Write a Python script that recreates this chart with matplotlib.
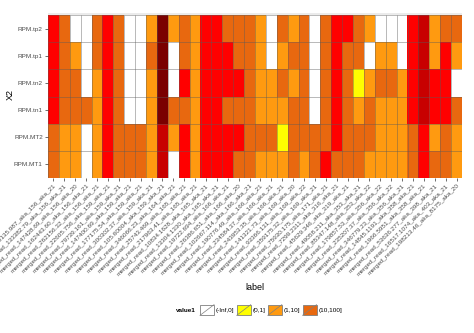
import numpy as np
import matplotlib.pyplot as plt
import matplotlib as mpl
from matplotlib.colors import ListedColormap, BoundaryNorm
from matplotlib.patches import Patch, Rectangle
from matplotlib.lines import Line2D
from matplotlib.legend_handler import HandlerPatch

mpl.rcParams['font.family'] = ['Liberation Sans', 'DejaVu Sans']

# fill levels (cut() bins), first four are in the legend
levels = ['(-Inf,0]', '(0,1]', '(1,10]', '(10,100]', '(100,1e+03]', '(1e+03,1e+04]', '(1e+04,1e+05]']
colors = ['#FFFFFF', '#FFFF00', '#FF9A10', '#E8680F', '#FF0000', '#C80000', '#7A0000']
code = {'W': 0, 'Y': 1, 'O': 2, 'D': 3, 'R': 4, 'K': 5, 'M': 6}

rows = ['RPM.MT1', 'RPM.MT2', 'RPM.tn1', 'RPM.tn2', 'RPM.tp1', 'RPM.tp2']

# one string per row, one letter per label (column)
rpm_mt1 = "DOOWORDDDOKWRORRRDDOOODODRDDDOOOODRDDO"
rpm_mt2 = "DOOWORDDDOKORORRRRDDDYDDDDRDDDOOODRODO"
rpm_tn1 = "RDDDORDWWOMDDORRDDDOOODDWDRDODOOORKRRD"
rpm_tn2 = "RDDWORDWWOMWRORRRRDOODODWDRDYODDORKRRW"
rpm_tp1 = "RDOWDRDWWDMWDORRRDDOWODDWDRDDWOOWRKORO"
rpm_tp2 = "RDWWDRDWWOMODORRDDDOWDODWDRRDOWWWRKODD"

labels = [
    "merged_read_10135.987_aka_156_aka_21", "merged_read_133382.79_aka_156_aka_21",
    "merged_read_147428.69_aka_156_aka_20", "merged_read_162443.60_aka_156_aka_21",
    "merged_read_262156.32_aka_156_aka_21", "merged_read_22605.756_aka_159_aka_21",
    "merged_read_79739.161_aka_159_aka_21", "merged_read_147400.69_aka_159_aka_21",
    "merged_read_177175.54_aka_159_aka_21", "merged_read_300302.37_aka_159_aka_21",
    "merged_read_105.60004_aka_159_aka_21", "merged_read_346066.23_aka_164_aka_21",
    "merged_read_25743.469_aka_165_aka_21", "merged_read_217963.41_aka_165_aka_21",
    "merged_read_10834.1628_aka_165_aka_21", "merged_read_13304.1330_aka_165_aka_21",
    "merged_read_19722.694_aka_166_aka_21", "merged_read_26386.651_aka_166_aka_20",
    "merged_read_102667.114_aka_166_aka_21", "merged_read_190776.49_aka_166_aka_21",
    "merged_read_234584.37_aka_166_aka_21", "merged_read_243953.35_aka_166_aka_21",
    "merged_read_141321.73_aka_169_aka_20", "merged_read_93366.131_aka_169_aka_22",
    "merged_read_359175.32_aka_169_aka_21", "merged_read_75930.175_aka_171_aka_21",
    "merged_read_7299.2311_aka_316_aka_21", "merged_read_45629.346_aka_319_aka_21",
    "merged_read_49058.211_aka_353_aka_21", "merged_read_85347.148_aka_353_aka_22",
    "merged_read_179857.53_aka_356_aka_22", "merged_read_235207.37_aka_356_aka_22",
    "merged_read_346779.23_aka_356_aka_21", "merged_read_14845.1191_aka_358_aka_21",
    "merged_read_1966.5951_aka_358_aka_21", "merged_read_53636.277_aka_398_aka_21",
    "merged_read_16517.1074_aka_403_aka_21", "merged_read_198213.46_aka_8175_aka_20",
]

grid = np.array([[code[c] for c in r] for r in
                 [rpm_mt1, rpm_mt2, rpm_tn1, rpm_tn2, rpm_tp1, rpm_tp2]])
ncol, nrow = len(labels), len(rows)

fig = plt.figure(figsize=(4.74, 3.33), dpi=100)
ax = fig.add_axes([48/474, 1 - 178/333, 414/474, 165/333])
ax.set_facecolor('#EBEBEB')

cmap = ListedColormap(colors)
norm = BoundaryNorm(np.arange(-0.5, len(colors)), len(colors))
ax.imshow(grid, cmap=cmap, norm=norm, origin='lower', aspect='auto',
          interpolation='nearest', extent=(0, ncol, 0, nrow))
# thin tile outlines
ax.vlines(np.arange(ncol + 1), 0, nrow, color='#5a5a5a', lw=0.4, alpha=0.75)
ax.hlines(np.arange(nrow + 1), 0, ncol, color='#5a5a5a', lw=0.4, alpha=0.75)

ax.set_xlim(0, ncol)
ax.set_ylim(0, nrow + 0.08)
ax.set_xticks(np.arange(ncol) + 0.5)
ax.set_xticklabels(labels, rotation=45, ha='right', rotation_mode='anchor',
                   fontsize=4.6, color='#4D4D4D')
ax.set_yticks(np.arange(nrow) + 0.5)
ax.set_yticklabels(rows, fontsize=4.6, color='#4D4D4D')
ax.tick_params(length=2.2, width=0.5, color='#333333', pad=1.5)
for s in ax.spines.values():
    s.set_visible(False)
fig.text(10/474, 1 - 95/333, 'X2', rotation=90, ha='center', va='center', fontsize=6.5)
fig.text(255/474, 1 - 288/333, 'label', ha='center', va='center', fontsize=6.5)


class SlashHandler(HandlerPatch):
    def create_artists(self, legend, orig_handle, xdescent, ydescent,
                       width, height, fontsize, trans):
        x0, y0 = -xdescent, -ydescent
        r = Rectangle((x0, y0), width, height, facecolor=orig_handle.get_facecolor(),
                      edgecolor='#7f7f7f', lw=0.6, transform=trans)
        ln = Line2D([x0, x0 + width], [y0, y0 + height], color='#7f7f7f', lw=0.5,
                    transform=trans)
        return [r, ln]


handles = [Patch(facecolor=colors[i], label=levels[i]) for i in range(4)]
fig.text(176/474, 1 - 310/333, 'value1', fontsize=4.6, fontweight='bold',
         ha='left', va='center')
fig.legend(handles=handles, loc='center left', bbox_to_anchor=(200/474, 1 - 310/333),
           ncol=4, frameon=False, fontsize=4.6, handlelength=2.2, handleheight=2.2,
           handletextpad=0.3, columnspacing=0.35, borderpad=0, borderaxespad=0,
           handler_map={Patch: SlashHandler()})

fig.savefig('out.png', dpi=100)
